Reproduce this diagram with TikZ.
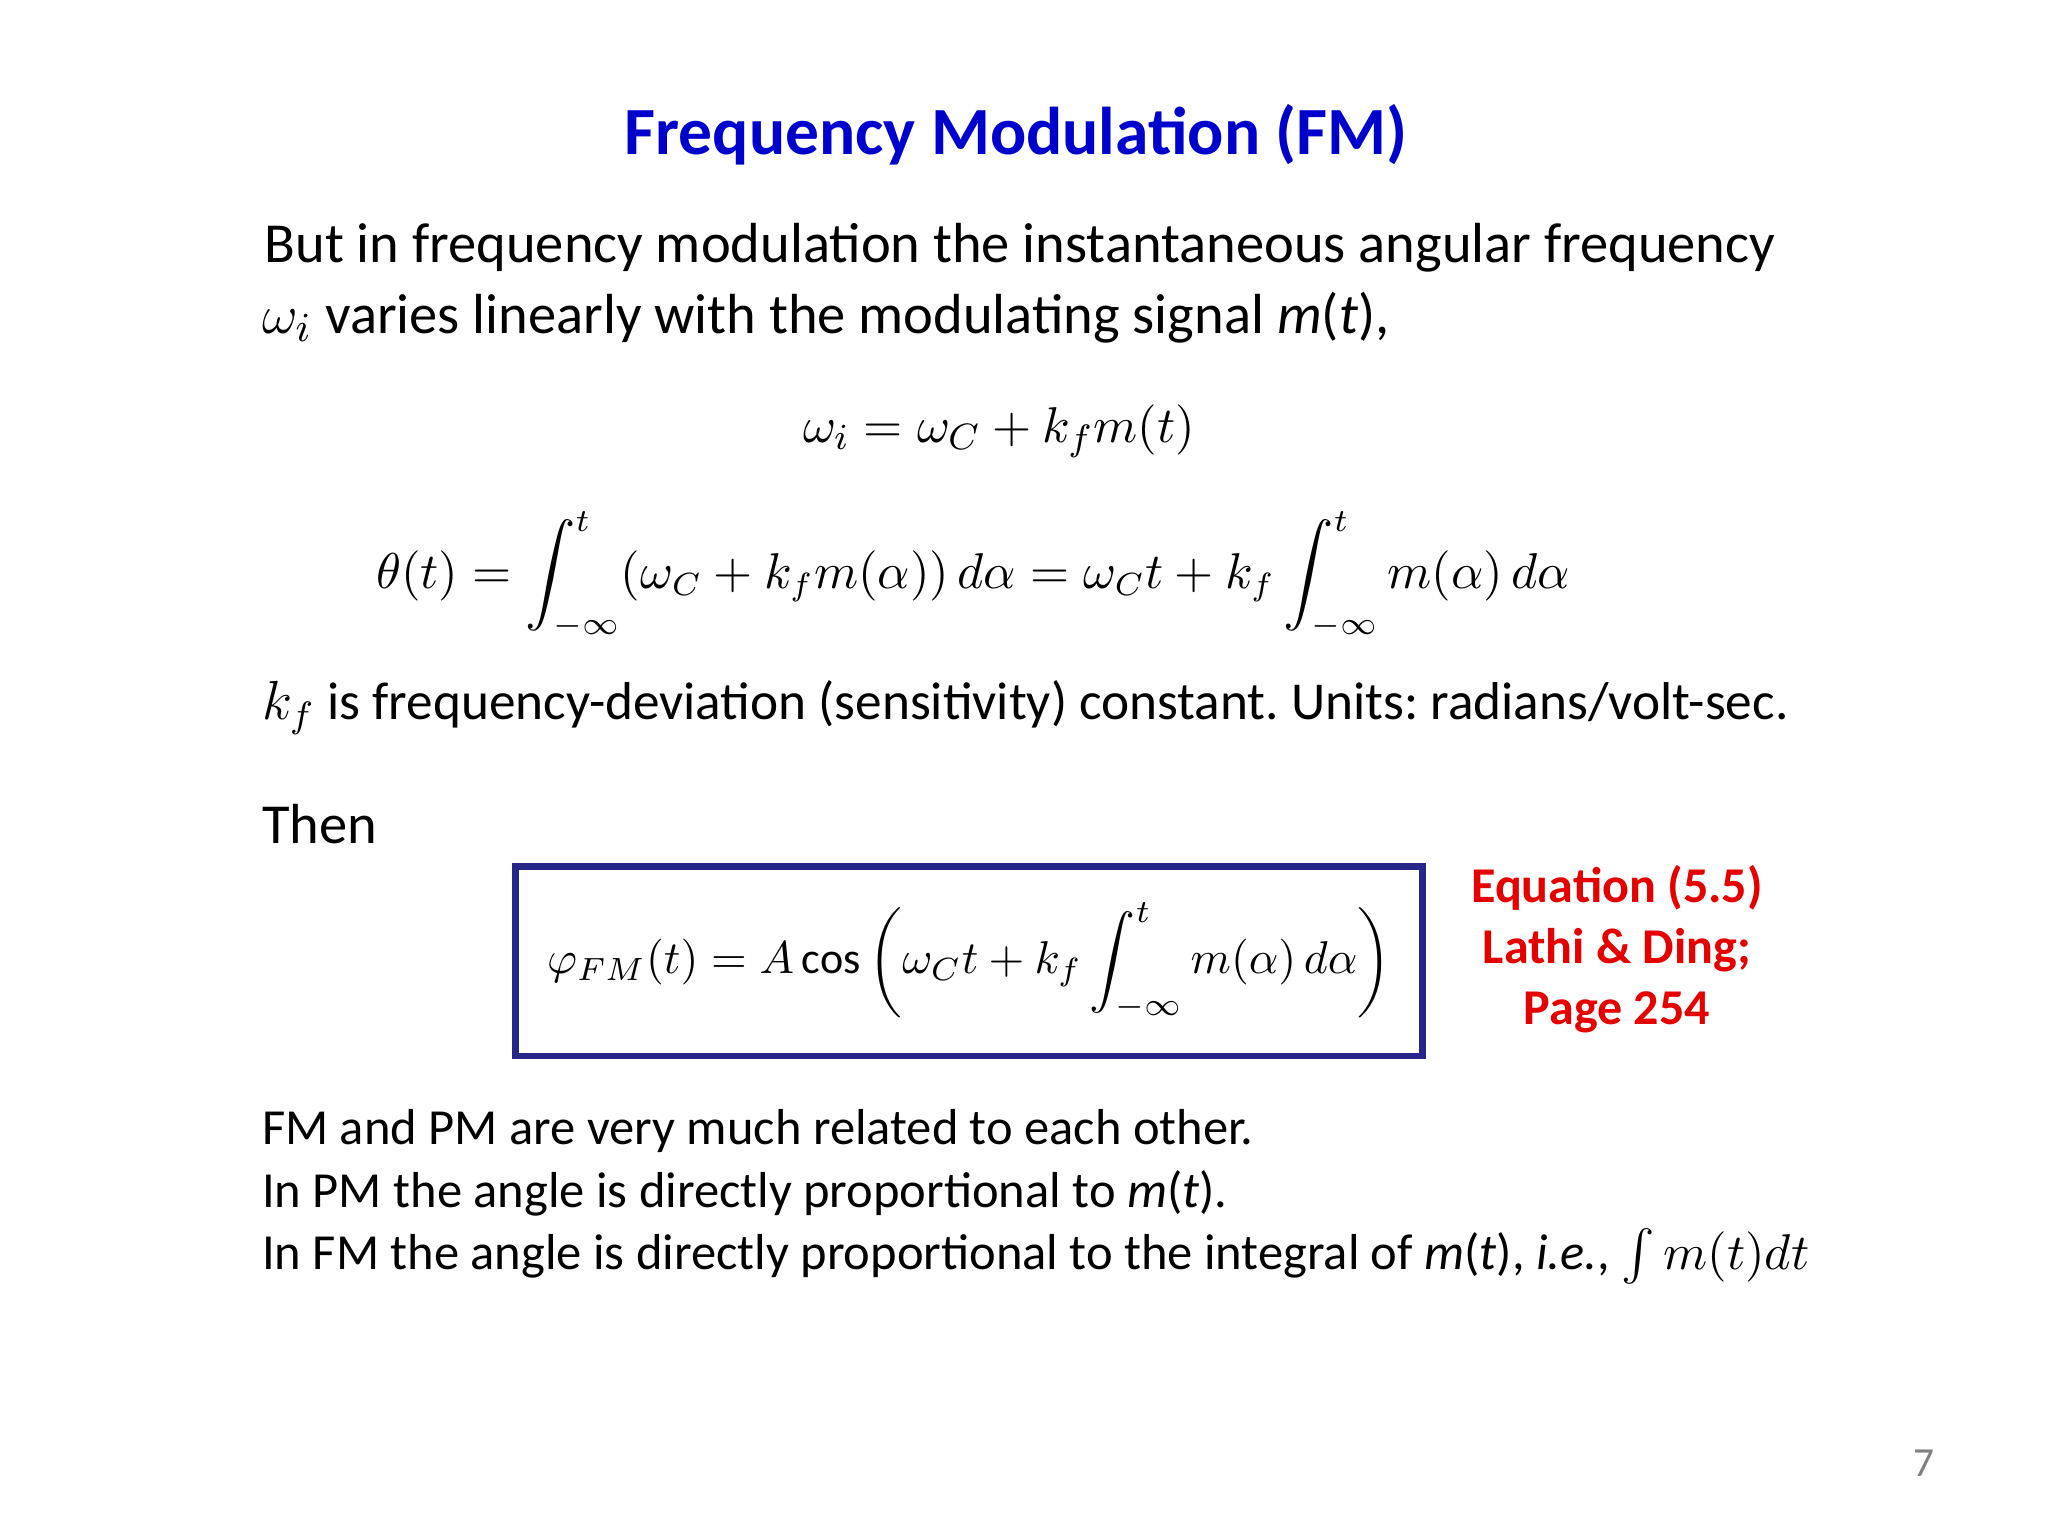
\documentclass[tikz,border=0pt]{standalone}
\usepackage{fontspec}
\setmainfont{Carlito}
\usepackage{amsmath}
\frenchspacing
\begin{document}
\begin{tikzpicture}[x=0.01cm,y=-0.01cm,
  txt/.style={anchor=west,inner sep=0pt,font=\fontsize{12.3}{15}\selectfont},
  txs/.style={anchor=west,inner sep=0pt,font=\fontsize{11}{13}\selectfont},
  eq/.style={inner sep=0pt,font=\fontsize{10.5}{12}\selectfont},
  red/.style={text=red!90!black,font=\bfseries\fontsize{10.9}{13.3}\selectfont,align=center}]
\useasboundingbox (0,0) rectangle (1568,1176);
\node[inner sep=0pt,text=blue!80!black,font=\bfseries\fontsize{14.7}{18}\selectfont] (title) at (778,103) {Frequency Modulation (FM)};
\node[txt] (l1) at (202,190) {But in frequency modulation the instantaneous angular frequency};
\node[txt] (l2) at (200,243) {$\omega_i$ varies linearly with the modulating signal \textit{m}(\textit{t}),};
\node[eq,font=\fontsize{11}{12}\selectfont] (e1) at (765,330) {$\omega_i = \omega_C + k_f m(t)$};
\node[eq] (e2) at (745,440) {$\displaystyle \theta(t) = \int_{-\infty}^{t} (\omega_C + k_f m(\alpha))\,d\alpha = \omega_C t + k_f \int_{-\infty}^{t} m(\alpha)\,d\alpha$};
\node[txs,font=\fontsize{11.6}{14}\selectfont] (l3) at (200,542) {$k_f$ is frequency-deviation (sensitivity) constant. Units: radians/volt-sec.};
\node[txt] (then) at (200,631) {Then};
\node[draw=blue!45!black!85,line width=1.5pt,minimum width=6.94cm,minimum height=1.45cm,inner sep=0pt] (box) at (742,736) {};
\node[eq,font=\fontsize{9.6}{11}\selectfont] (e3) at (742,736) {$\displaystyle \varphi_{FM}(t) = A\cos\left(\omega_C t + k_f \int_{-\infty}^{t} m(\alpha)\,d\alpha\right)$};
\node[red] (ref) at (1238,727) {Equation (5.5)\\Lathi \& Ding;\\Page 254};
\node[txs] (l4) at (200,866) {FM and PM are very much related to each other.};
\node[txs] (l5) at (200,914) {In PM the angle is directly proportional to \textit{m}(\textit{t}).};
\node[txs] (l6) at (200,962) {In FM the angle is directly proportional to the integral of \textit{m}(\textit{t}), \textit{i.e.}, $\int m(t)dt$};
\node[inner sep=0pt,text=gray,font=\fontsize{9}{10}\selectfont] (pg) at (1473,1120) {7};
\end{tikzpicture}
\end{document}
